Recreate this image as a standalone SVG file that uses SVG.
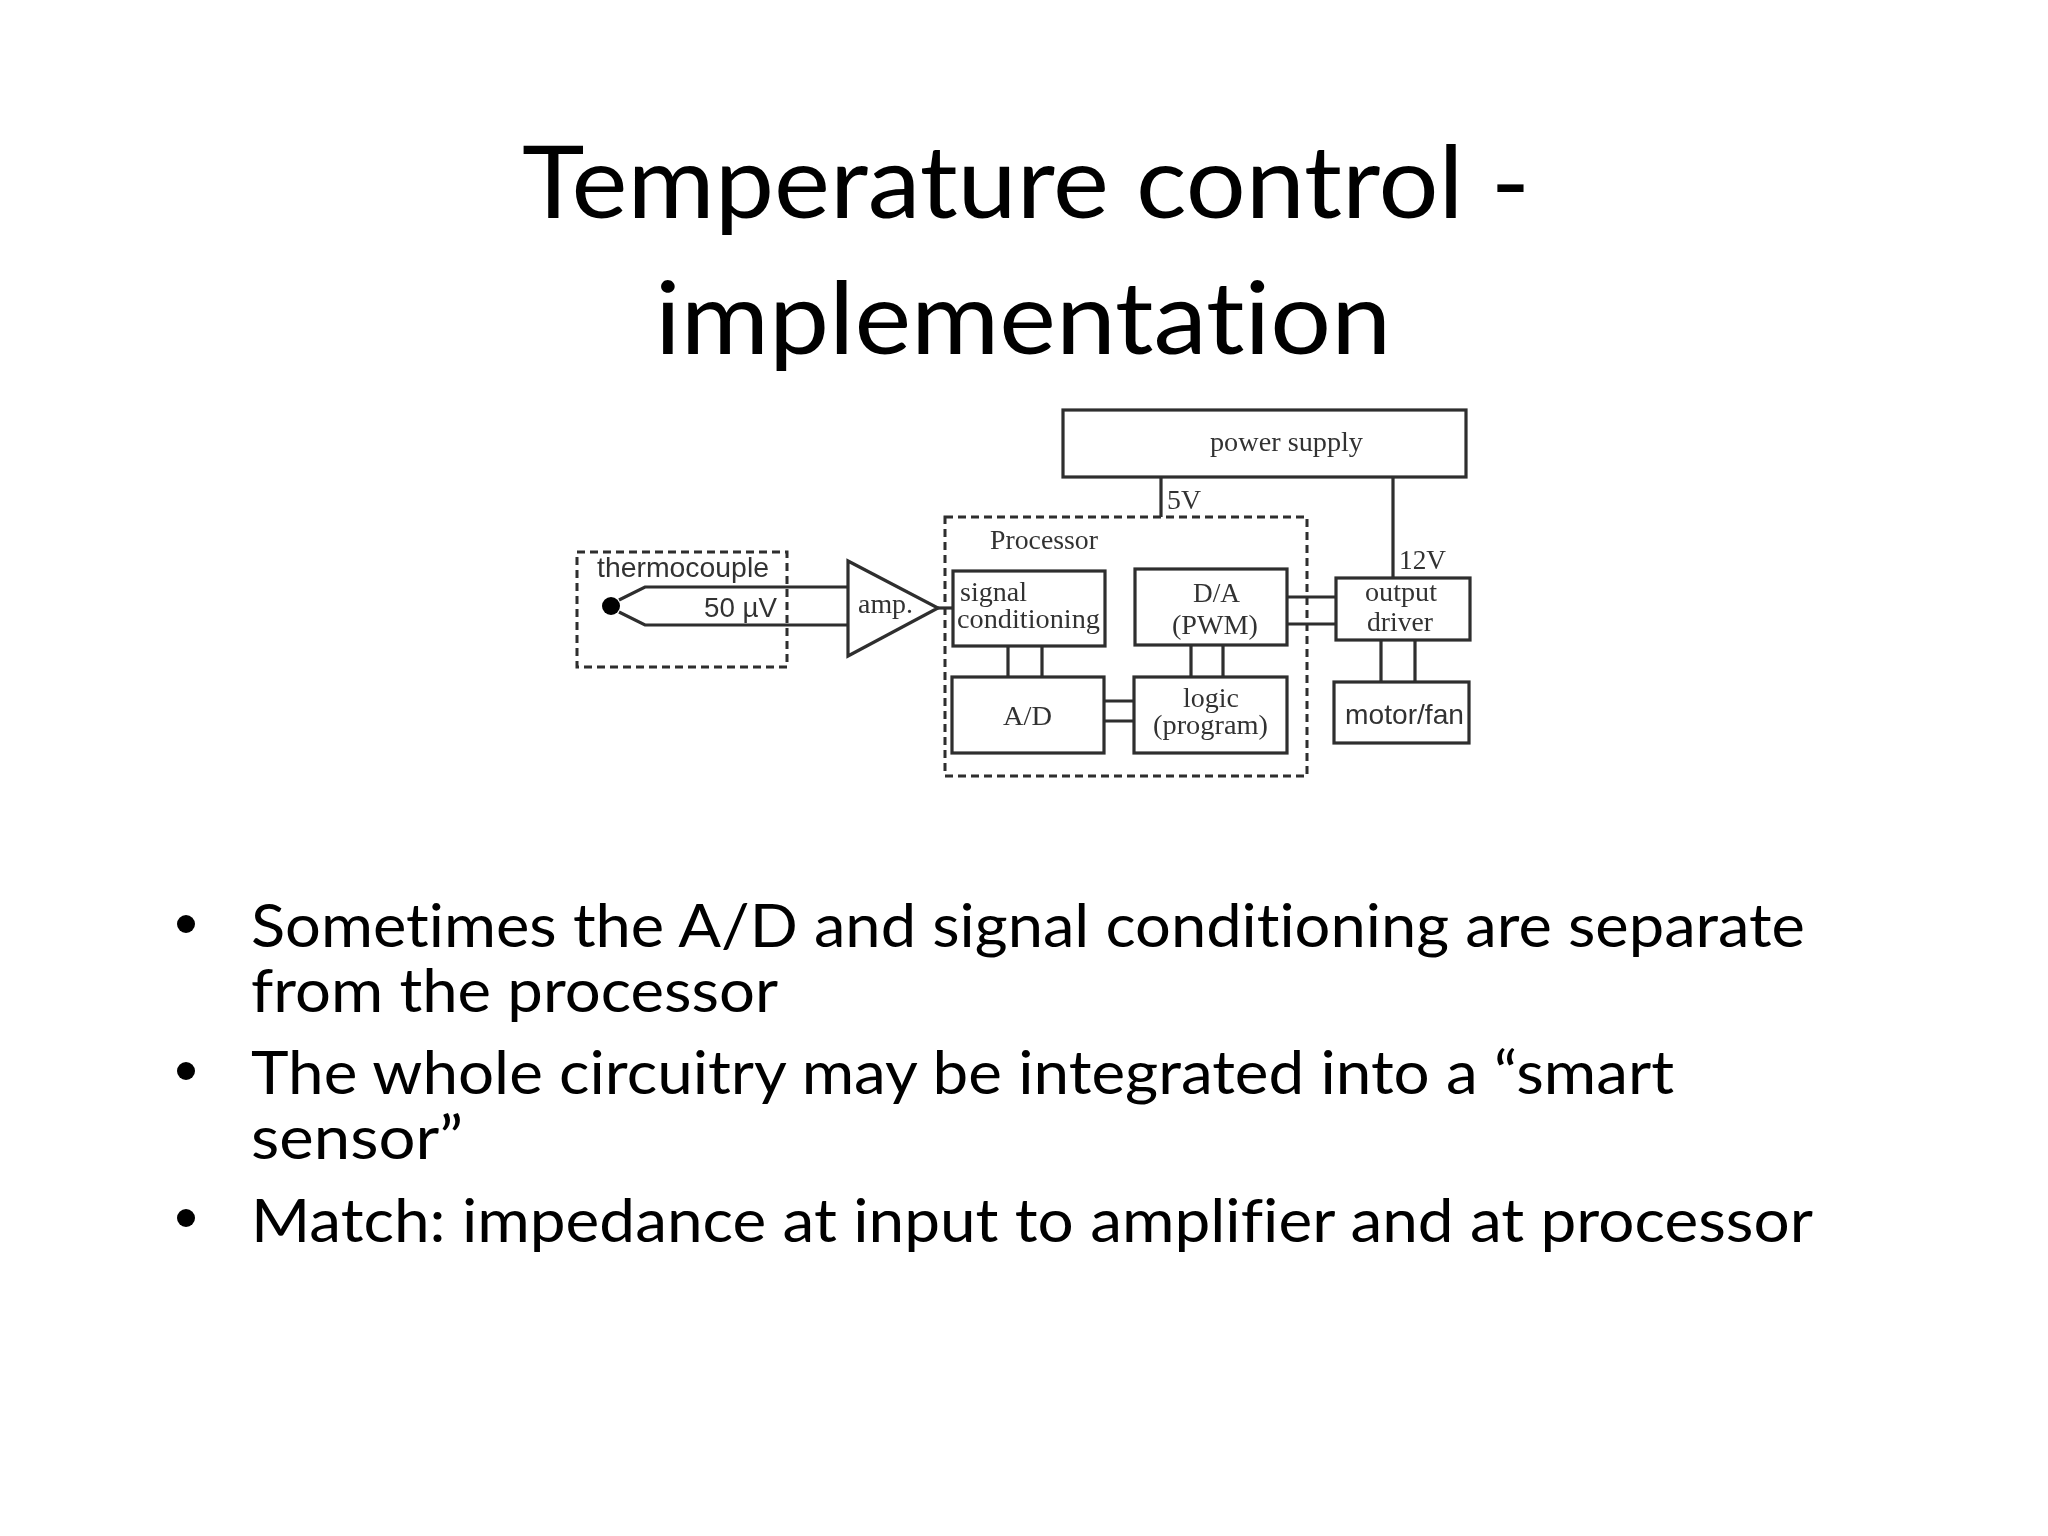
<svg xmlns="http://www.w3.org/2000/svg" width="2048" height="1536" viewBox="0 0 2048 1536">
<style>
.title{font-family:"Lato","Open Sans",sans-serif;font-size:101px;fill:#000;font-variant-ligatures:none}
.body{font-family:"Lato","Open Sans",sans-serif;font-size:60px;fill:#000;font-variant-ligatures:none}
.s{font-family:"Liberation Serif",serif;font-size:28px;fill:#333}
.h{font-family:"Liberation Sans",sans-serif;font-size:28px;fill:#333}
.box{fill:#fff;stroke:#2e2e2e;stroke-width:3.2}
.dash{fill:none;stroke:#2e2e2e;stroke-width:3;stroke-dasharray:8 5}
.wire{fill:none;stroke:#2e2e2e;stroke-width:3.2}
</style>
<defs><filter id="soft" x="-2%" y="-2%" width="104%" height="104%"><feGaussianBlur stdDeviation="0.55"/></filter></defs>
<rect width="2048" height="1536" fill="#fff"/>
<text class="title" x="522" y="218" textLength="1008" lengthAdjust="spacingAndGlyphs">Temperature control -</text>
<text class="title" x="655" y="354" textLength="736" lengthAdjust="spacingAndGlyphs">implementation</text>

<g id="figure" filter="url(#soft)">
<g id="connectors">
<path class="wire" d="M1161 477V517M1393 477V578"/>
<path class="wire" d="M619 600L645 587H848M619 612L645 625H848"/>
<path class="wire" d="M938 608H953"/>
<path class="wire" d="M1008 646V677M1042 646V677"/>
<path class="wire" d="M1191 645V677M1223 645V677"/>
<path class="wire" d="M1104 701H1134M1104 721H1134"/>
<path class="wire" d="M1287 597H1336M1287 624H1336"/>
<path class="wire" d="M1381 640V682M1415 640V682"/>
</g>

<g id="thermocouple">
<rect class="dash" x="577" y="552" width="210" height="115"/>
<circle cx="611" cy="606" r="9" fill="#000"/>
<text class="h" x="597" y="577" textLength="172" lengthAdjust="spacingAndGlyphs">thermocouple</text>
<text class="h" x="704" y="617" textLength="73" lengthAdjust="spacingAndGlyphs">50 µV</text>
</g>
<g id="amp">
<polygon class="box" points="848,561 848,656 938,608"/>
<text class="s" x="858" y="613" textLength="55" lengthAdjust="spacingAndGlyphs">amp.</text>
</g>
<g id="processor">
<rect class="dash" x="945" y="517" width="362" height="259"/>
<text class="s" x="990" y="549" textLength="108" lengthAdjust="spacingAndGlyphs">Processor</text>
</g>
<g id="signal-conditioning">
<rect class="box" x="953" y="571" width="152" height="75"/>
<text class="s" x="960" y="601" textLength="67" lengthAdjust="spacingAndGlyphs">signal</text>
<text class="s" x="957" y="628" textLength="143" lengthAdjust="spacingAndGlyphs">conditioning</text>
</g>
<g id="ad">
<rect class="box" x="952" y="677" width="152" height="76"/>
<text class="s" x="1003" y="725" textLength="49" lengthAdjust="spacingAndGlyphs">A/D</text>
</g>
<g id="da">
<rect class="box" x="1135" y="569" width="152" height="76"/>
<text class="s" x="1193" y="602" textLength="47" lengthAdjust="spacingAndGlyphs">D/A</text>
<text class="s" x="1172" y="634" textLength="86" lengthAdjust="spacingAndGlyphs">(PWM)</text>
</g>
<g id="logic">
<rect class="box" x="1134" y="677" width="153" height="76"/>
<text class="s" x="1183" y="707" textLength="56" lengthAdjust="spacingAndGlyphs">logic</text>
<text class="s" x="1153" y="734" textLength="115" lengthAdjust="spacingAndGlyphs">(program)</text>
</g>
<g id="power-supply">
<rect class="box" x="1063" y="410" width="403" height="67"/>
<text class="s" x="1210" y="451" textLength="153" lengthAdjust="spacingAndGlyphs">power supply</text>
</g>
<g id="labels">
<text class="s" x="1167" y="509" textLength="34" lengthAdjust="spacingAndGlyphs">5V</text>
<text class="s" x="1399" y="569" textLength="47" lengthAdjust="spacingAndGlyphs">12V</text>
</g>
<g id="output-driver">
<rect class="box" x="1336" y="578" width="134" height="62"/>
<text class="s" x="1365" y="601" textLength="72" lengthAdjust="spacingAndGlyphs">output</text>
<text class="s" x="1367" y="631" textLength="66" lengthAdjust="spacingAndGlyphs">driver</text>
</g>
<g id="motor-fan">
<rect class="box" x="1334" y="682" width="135" height="61"/>
<text class="h" x="1345" y="724" textLength="119" lengthAdjust="spacingAndGlyphs">motor/fan</text>
</g>
</g>

<g id="bullets">
<circle cx="186" cy="924" r="9" fill="#000"/>
<circle cx="186" cy="1071" r="9" fill="#000"/>
<circle cx="186" cy="1218" r="9" fill="#000"/>
<text class="body" x="251" y="947" textLength="1554" lengthAdjust="spacingAndGlyphs">Sometimes the A/D and signal conditioning are separate</text>
<text class="body" x="251" y="1012" textLength="527" lengthAdjust="spacingAndGlyphs">from the processor</text>
<text class="body" x="251" y="1094" textLength="1423" lengthAdjust="spacingAndGlyphs">The whole circuitry may be integrated into a “smart</text>
<text class="body" x="251" y="1159" textLength="212" lengthAdjust="spacingAndGlyphs">sensor”</text>
<text class="body" x="251" y="1242" textLength="1562" lengthAdjust="spacingAndGlyphs">Match: impedance at input to amplifier and at processor</text>
</g>
</svg>
